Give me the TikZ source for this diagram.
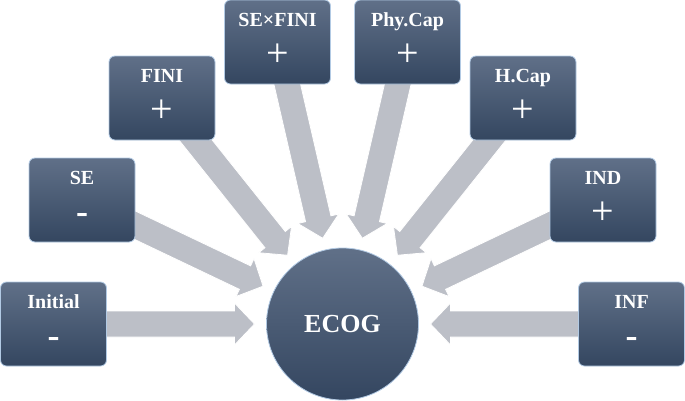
\documentclass[tikz,border=0pt]{standalone}
\usepackage{fontspec}
\setmainfont{Liberation Serif}
\usetikzlibrary{calc,backgrounds}
\definecolor{ecogTop}{RGB}{96,112,136}
\definecolor{ecogBot}{RGB}{52,70,96}
\definecolor{ecogEdge}{RGB}{178,202,228}
\definecolor{ecogArrow}{RGB}{188,191,199}

\newcommand{\fatarrow}[2]{%
  \coordinate (#1tip) at ($(#2.center)!88pt!(#1.center)$);
  \coordinate (#1neck) at ($(#1tip)!20pt!(#1.center)$);
  \draw[fat] ($(#1.center)!13pt!90:(#1tip)$) -- ($(#1neck)!13pt!90:(#1tip)$)
    -- ($(#1neck)!21pt!90:(#1tip)$) -- (#1tip) -- ($(#1neck)!21pt!-90:(#1tip)$)
    -- ($(#1neck)!13pt!-90:(#1tip)$) -- ($(#1.center)!13pt!-90:(#1tip)$) -- cycle;
}

\begin{document}
\begin{tikzpicture}[x=1pt, y=1pt,
    factor/.style={rectangle, rounded corners=6pt, minimum width=106pt, minimum height=84pt,
                   top color=ecogTop, bottom color=ecogBot, draw=ecogEdge, line width=0.8pt},
    hub/.style={circle, minimum size=152pt, inner sep=0pt, top color=ecogTop, bottom color=ecogBot,
                draw=ecogEdge, line width=0.8pt, text=white, font=\fontsize{26}{30}\selectfont\bfseries},
    tag/.style={anchor=base, text=white, inner sep=0pt, font=\fontsize{20}{24}\selectfont\bfseries},
    sign/.style={anchor=base, text=white, inner sep=0pt, font=\fontsize{36}{40}\selectfont\bfseries},
    plus/.style={anchor=base, text=white, inner sep=0pt, font=\fontsize{40}{44}\selectfont},
    fat/.style={fill=ecogArrow, draw=white, line width=0.8pt, line join=miter}
  ]
  \useasboundingbox (0,0) rectangle (685,400);

  \node[hub] (ecog) at (342.5,76) {ECOG};

  \node[factor] (init)   at ( 53.5, 76) {};
  \node[factor] (se)     at ( 82.0,200) {};
  \node[factor] (fini)   at (162.0,302) {};
  \node[factor] (sefini) at (277.5,358) {};
  \node[factor] (phycap) at (407.5,358) {};
  \node[factor] (hcap)   at (523.0,302) {};
  \node[factor] (ind)    at (603.0,200) {};
  \node[factor] (inf)    at (631.5, 76) {};

  \node[tag] (init-t)   at ($(init.north)+(0,-27)$)   {Initial};
  \node[tag] (se-t)     at ($(se.north)+(0,-27)$)     {SE};
  \node[tag] (fini-t)   at ($(fini.north)+(0,-27)$)   {FINI};
  \node[tag] (sefini-t) at ($(sefini.north)+(0,-27)$) {SE×FINI};
  \node[tag] (phycap-t) at ($(phycap.north)+(0,-27)$) {Phy.Cap};
  \node[tag] (hcap-t)   at ($(hcap.north)+(0,-27)$)   {H.Cap};
  \node[tag] (ind-t)    at ($(ind.north)+(0,-27)$)    {IND};
  \node[tag] (inf-t)    at ($(inf.north)+(0,-27)$)    {INF};

  \node[sign] (init-s)   at ($(init.north)+(0,-66)$)   {-};
  \node[sign] (se-s)     at ($(se.north)+(0,-66)$)     {-};
  \node[plus] (fini-s)   at ($(fini.north)+(0,-67)$)   {+};
  \node[plus] (sefini-s) at ($(sefini.north)+(0,-67)$) {+};
  \node[plus] (phycap-s) at ($(phycap.north)+(0,-67)$) {+};
  \node[plus] (hcap-s)   at ($(hcap.north)+(0,-67)$)   {+};
  \node[plus] (ind-s)    at ($(ind.north)+(0,-67)$)    {+};
  \node[sign] (inf-s)    at ($(inf.north)+(0,-66)$)    {-};

  % block arrows sit behind the boxes
  \begin{scope}[on background layer]
    \fatarrow{init}{ecog}
    \fatarrow{se}{ecog}
    \fatarrow{fini}{ecog}
    \fatarrow{sefini}{ecog}
    \fatarrow{phycap}{ecog}
    \fatarrow{hcap}{ecog}
    \fatarrow{ind}{ecog}
    \fatarrow{inf}{ecog}
  \end{scope}
\end{tikzpicture}
\end{document}
